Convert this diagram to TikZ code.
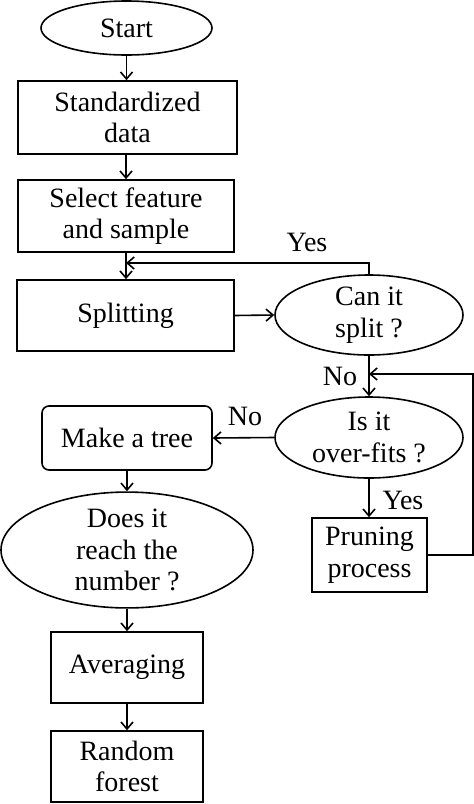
\documentclass[tikz,border=0pt]{standalone}
\usepackage{fontspec}
\setmainfont{Liberation Serif}
\usetikzlibrary{shapes.geometric,arrows.meta}
\begin{document}
\begin{tikzpicture}[x=1pt,y=-1pt,
  every node/.style={font=\fontsize{28}{31.5}\selectfont, align=center, inner sep=0pt},
  boxnode/.style={draw, rectangle, line width=1.6pt},
  roundbox/.style={draw, rectangle, rounded corners=7pt, line width=1.6pt},
  ovalnode/.style={draw, ellipse, line width=1.6pt},
  arr/.style={-{Straight Barb[length=7pt,width=12pt]}, line width=1.6pt},
  lbl/.style={font=\fontsize{28}{31.5}\selectfont}
]
\useasboundingbox (0,0) rectangle (474,804);

\node[ovalnode, minimum width=171pt, minimum height=54pt] (start) at (126.5,28) {Start};
\node[boxnode, minimum width=219pt, minimum height=73pt] (std) at (127.5,117.5) {Standardized\\data};
\node[boxnode, minimum width=216pt, minimum height=72pt] (sel) at (126,216) {Select feature\\and sample};
\node[boxnode, minimum width=217pt, minimum height=71pt] (spl) at (125.5,315.5) {Splitting};
\node[ovalnode, minimum width=188pt, minimum height=80pt] (can) at (369,315) {Can it\\split ?};
\node[ovalnode, minimum width=188pt, minimum height=81pt] (over) at (369,437.5) {Is it\\over-fits ?};
\node[roundbox, minimum width=170pt, minimum height=64pt] (make) at (127,438) {Make a tree};
\node[ovalnode, minimum width=252pt, minimum height=110pt] (reach) at (127,550) {Does it\\reach the\\number ?};
\node[boxnode, minimum width=115pt, minimum height=74pt] (prune) at (369.5,555) {Pruning\\process};
\node[boxnode, minimum width=152pt, minimum height=71pt] (avg) at (127,667.5) {Averaging};
\node[boxnode, minimum width=152pt, minimum height=71pt] (rf) at (127,766.5) {Random\\forest};

\node[lbl] (yes1) at (307,242) {Yes};
\node[lbl] (no1) at (340,376) {No};
\node[lbl] (no2) at (245,416) {No};
\node[lbl] (yes2) at (403,500) {Yes};

\coordinate (yj) at (126,263);
\coordinate (rc) at (473,374);
\coordinate (lj) at (369,374);

\draw[arr] (start.south) -- (start.south |- std.north);
\draw[arr] (std.south -| sel.south) -- (sel.north);
\draw[arr] (sel.south) -- (sel.south |- spl.north);
\draw[arr] (can.north) |- (yj);
\draw[arr] (spl.east) -- (can.west);
\draw[arr] (can.south) -- (over.north);
\draw[arr] (prune.east) -| (rc) -- (lj);
\draw[arr] (over.west) -- (make.east);
\draw[arr] (over.south) -- (over.south |- prune.north);
\draw[arr] (make.south) -- (reach.north);
\draw[arr] (reach.south) -- (avg.north);
\draw[arr] (avg.south) -- (rf.north);
\end{tikzpicture}
\end{document}
